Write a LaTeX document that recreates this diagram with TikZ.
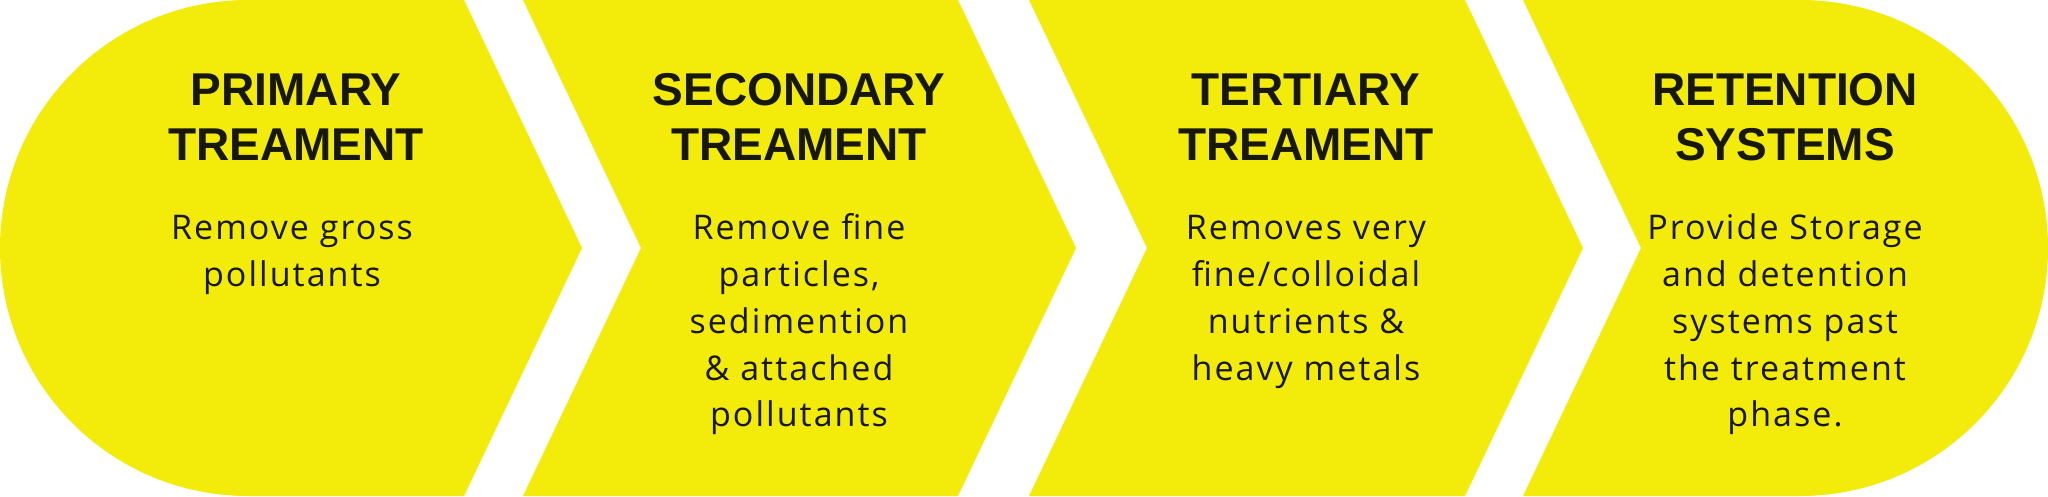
\documentclass[tikz,border=0pt]{standalone}
\usepackage{fontspec}
\newfontfamily\titlefont{Liberation Sans}
\newfontfamily\bodyfont{Open Sans}[LetterSpace=6.0]
\definecolor{stageyellow}{HTML}{F3EC0B}
\definecolor{ink}{HTML}{17170A}
\begin{document}
\begin{tikzpicture}[x=1pt,y=1pt,
  stage/.style={fill=stageyellow, draw=none},
  ttl/.style={anchor=base, inner sep=0pt, text=ink, font=\titlefont\bfseries\fontsize{46}{56}\selectfont},
  bdy/.style={anchor=base, inner sep=0pt, text=ink, font=\bodyfont\fontsize{34}{46.7}\selectfont}]
\useasboundingbox (0,0) rectangle (2048,496);
% stage shapes
\fill[stage] (248,496) -- (464,496) -- (582,248) -- (464,0) -- (248,0)
  arc[start angle=270, end angle=90, radius=248] -- cycle;
\fill[stage] (523,496) -- (958,496) -- (1076,248) -- (958,0) -- (523,0) -- (641,248) -- cycle;
\fill[stage] (1029,496) -- (1465,496) -- (1583,248) -- (1465,0) -- (1029,0) -- (1147,248) -- cycle;
\fill[stage] (1523,496) -- (1800,496) arc[start angle=90, end angle=-90, radius=248]
  -- (1523,0) -- (1641,248) -- cycle;
% stage 1
\node[ttl] (t1a) at (296,390) {PRIMARY};
\node[ttl] (t1b) at (296,335) {TREAMENT};
\node[bdy] (b1a) at (292,256) {Remove gross};
\node[bdy] (b1b) at (292,209.3) {pollutants};
% stage 2
\node[ttl] (t2a) at (799,390) {SECONDARY};
\node[ttl] (t2b) at (799,335) {TREAMENT};
\node[bdy] (b2a) at (799,256) {Remove fine};
\node[bdy] (b2b) at (799,209.3) {particles,};
\node[bdy] (b2c) at (799,162.6) {sedimention};
\node[bdy] (b2d) at (799,115.9) {\& attached};
\node[bdy] (b2e) at (799,69.2) {pollutants};
% stage 3
\node[ttl] (t3a) at (1306,390) {TERTIARY};
\node[ttl] (t3b) at (1306,335) {TREAMENT};
\node[bdy] (b3a) at (1306,256) {Removes very};
\node[bdy] (b3b) at (1306,209.3) {fine/colloidal};
\node[bdy] (b3c) at (1306,162.6) {nutrients \&};
\node[bdy] (b3d) at (1306,115.9) {heavy metals};
% stage 4
\node[ttl] (t4a) at (1785,390) {RETENTION};
\node[ttl] (t4b) at (1785,335) {SYSTEMS};
\node[bdy] (b4a) at (1785,256) {Provide Storage};
\node[bdy] (b4b) at (1785,209.3) {and detention};
\node[bdy] (b4c) at (1785,162.6) {systems past};
\node[bdy] (b4d) at (1785,115.9) {the treatment};
\node[bdy] (b4e) at (1785,69.2) {phase.};
\end{tikzpicture}
\end{document}
